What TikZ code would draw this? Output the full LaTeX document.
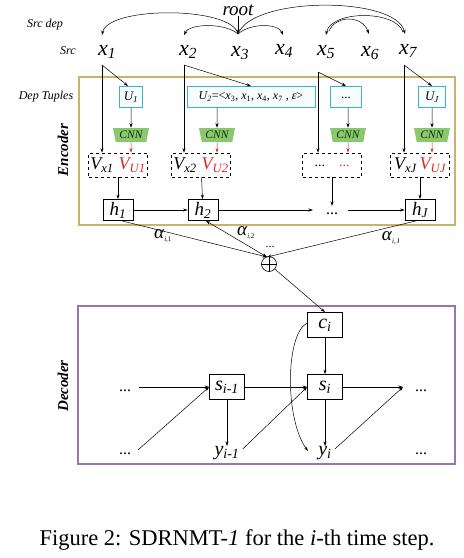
\documentclass[tikz,border=0pt]{standalone}
\usepackage{fontspec}
\setmainfont{Liberation Serif}
\usetikzlibrary{arrows.meta,shapes.geometric}
\definecolor{encc}{RGB}{204,178,104}
\definecolor{decc}{RGB}{150,118,172}
\definecolor{tupc}{RGB}{62,176,206}
\definecolor{cnnc}{RGB}{140,198,110}
\definecolor{vred}{RGB}{222,40,40}
\newcommand{\subsc}[2]{\textit{#1\textsubscript{#2}}}
\newcommand{\fsz}[1]{\fontsize{#1}{#1}\selectfont}
\begin{document}
\begin{tikzpicture}[x=1pt,y=-1pt,
  >={Stealth[length=4.5pt,width=3pt]},
  line width=0.5pt,
  lbl/.style={font=\fsz{12}\itshape},
  word/.style={font=\fsz{22}, inner sep=0pt},
  tup/.style={draw=tupc, line width=1pt, fill=tupc!4, minimum height=21, inner sep=1pt, font=\fsz{13}},
  cnn/.style={trapezium, shape border rotate=180, trapezium left angle=75, trapezium right angle=75, fill=cnnc, minimum height=14, minimum width=36, trapezium stretches=true, inner sep=0pt, font=\fsz{11.5}\itshape, text=black!80!green},
  vbox/.style={draw, dashed, line width=0.8pt, minimum width=59, minimum height=24, inner sep=0pt, font=\fsz{18}},
  hbox/.style={draw, line width=0.8pt, minimum width=30, minimum height=21, inner sep=0pt, font=\fsz{19}},
  sbox/.style={draw, line width=0.8pt, minimum width=35, minimum height=25, inner sep=0pt, font=\fsz{20}},
  dots/.style={font=\fsz{16}, inner sep=0pt},
  alab/.style={font=\fsz{19}, inner sep=0pt},
  side/.style={font=\fsz{15}\bfseries\itshape, rotate=90}]
\useasboundingbox (0,0) rectangle (464,558);
% frames
\draw[encc, line width=1.2pt] (79,77) rectangle (455,225);
\draw[decc, line width=1.2pt] (78,306) rectangle (455,464);
% side labels
\node[lbl] (lsd) at (45,25) {Src dep};
\node[lbl] (lsrc) at (68,51) {Src};
\node[lbl] (ldt) at (46,97) {Dep Tuples};
\node[side] (lenc) at (63,150) {Encoder};
\node[side] (ldec) at (63,386) {Decoder};
% words
\node[font=\fsz{19}\itshape, inner sep=0pt] (root) at (238,10) {root};
\node[word] (x1) at (107,52) {\subsc{x}{1}};
\node[word] (x2) at (188,52) {\subsc{x}{2}};
\node[word] (x3) at (240,53) {\subsc{x}{3}};
\node[word] (x4) at (284,51) {\subsc{x}{4}};
\node[word] (x5) at (326,52) {\subsc{x}{5}};
\node[word] (x6) at (370,53) {\subsc{x}{6}};
\node[word] (x7) at (408,51) {\subsc{x}{7}};
% dependency arcs
\coordinate (r3) at (238,34);
\coordinate (d1) at (102,35);
\coordinate (d2) at (184,35);
\coordinate (d4) at (283,35);
\coordinate (d5) at (326,35);
\coordinate (d5s) at (329,31);
\coordinate (d6) at (369,34);
\coordinate (d7) at (405,34);
\coordinate (d7s) at (403,32);
\draw[->] (root) -- (r3);
\draw[->] (r3) .. controls (232,6) and (108,6) .. (d1);
\draw[->] (r3) .. controls (226,23) and (190,23) .. (d2);
\draw[->] (r3) .. controls (250,23) and (278,23) .. (d4);
\draw[->] (r3) .. controls (252,-4) and (396,-4) .. (d7);
\draw[->] (d7s) .. controls (396,10) and (331,10) .. (d5);
\draw[->] (d5s) .. controls (336,15) and (362,15) .. (d6);
% tuple boxes
\node[tup, minimum width=23] (u1) at (131,97) {\subsc{U}{1}};
\node[tup, minimum width=128, font=\fsz{12}] (u2) at (251,97) {\subsc{U}{2}=<\textit{x}\textsubscript{3}, \textit{x}\textsubscript{1}, \textit{x}\textsubscript{4}, \textit{x}\textsubscript{7} , \textit{ε}>};
\node[tup, minimum width=31] (u3) at (346,97) {\raisebox{-4pt}{...}};
\node[tup, minimum width=27] (u4) at (432,97) {\subsc{U}{J}};
% CNN
\node[cnn] (c1) at (131,135) {CNN};
\node[cnn] (c2) at (217,135) {CNN};
\node[cnn] (c3) at (348,135) {CNN};
\node[cnn] (c4) at (432,135) {CNN};
% dashed boxes
\node[vbox] (v1) at (118,165) {\subsc{V}{x1}\hspace{5pt}\textcolor{vred}{\subsc{V}{U1}}};
\node[vbox] (v2) at (201,165) {\subsc{V}{x2}\hspace{5pt}\textcolor{vred}{\subsc{V}{U2}}};
\node[vbox] (v3) at (332,165) {\raisebox{-4pt}{\fsz{14}...}\hspace{14pt}\textcolor{vred}{\raisebox{-4pt}{\fsz{14}...}}};
\node[vbox] (v4) at (420,165) {\subsc{V}{xJ}\hspace{3pt}\textcolor{vred}{\subsc{V}{UJ}}};
% h boxes
\node[hbox] (h1) at (118,210) {\subsc{h}{1}};
\node[hbox] (h2) at (203,210) {\subsc{h}{2}};
\node[dots] (hd) at (332,214) {...};
\node[hbox] (hJ) at (420,210) {\subsc{h}{J}};
% word to tuple / vectors
\coordinate (s1) at (102,65);
\coordinate (s2) at (184,65);
\coordinate (s5) at (318,72);
\coordinate (s7) at (404,65);
\draw[->] (s1) -- (u1.north west -| 128,87);
\draw[->] (s1) -- (v1.north -| s1);
\draw[->] (s2) -- (u2.north);
\draw[->] (s2) -- (v2.north -| s2);
\draw[->] (s5) -- (u3.north);
\draw[->] (s5) -- (v3.north -| s5);
\draw[->] (s7) -- (u4.north);
\draw[->] (s7) -- (v4.north -| s7);
% tuple -> cnn -> vectors
\foreach \i in {1,2,3,4} {
  \draw[->] (u\i.south -| c\i) -- (c\i.north);
  \draw[->, vred] (c\i.south) -- (v\i.north -| c\i);
}
% vectors -> h
\draw[->] (v1) -- (h1);
\draw[->] (v2) -- (h2);
\draw[->] (v3) -- ([yshift=7pt]hd.north);
\draw[->] (v4) -- (hJ);
\draw[->] (h1) -- (h2);
\draw[->] (h2) -- (313,210);
\draw[->] (348,210) -- (hJ);
% attention
\node[circle, draw, line width=0.6pt, minimum size=15, inner sep=0pt] (op) at (269,264) {};
\draw (op.north) -- (op.south) (op.west) -- (op.east);
\coordinate (opt) at (267,257);
\draw[->] (h1.south) ++(4,0) coordinate (h1b) -- (opt);
\draw[<->] (h2.south) ++(3,0) coordinate (h2b) -- (opt);
\draw[->] (hJ.south) ++(-4,0) coordinate (hJb) -- (opt);
\node[alab] (a1) at (163,236) {\textit{α}\textsubscript{\fsz{7}\textit{i},1}};
\node[alab] (a2) at (246,233) {\textit{α}\textsubscript{\fsz{7}\textit{i},2}};
\node[alab] (aJ) at (391,238) {\textit{α}\textsubscript{\fsz{7}\textit{i},\,J}};
\node[dots, font=\fsz{12}] (ad) at (270,247) {...};
% decoder
\node[sbox] (ci) at (325,325) {\subsc{c}{i}};
\node[sbox] (sp) at (227,387) {\subsc{s}{i-1}};
\node[sbox] (si) at (325,387) {\subsc{s}{i}};
\node[font=\fsz{20}, inner sep=0pt] (yp) at (227,453) {\subsc{y}{i-1}};
\node[font=\fsz{20}, inner sep=0pt] (yi) at (325,453) {\subsc{y}{i}};
\node[dots] (dl1) at (125,391) {...};
\node[dots] (dl2) at (125,454) {...};
\node[dots] (dr1) at (421,391) {...};
\node[dots] (dr2) at (421,454) {...};
\draw[->] (op) -- (ci.north);
\draw[->] (ci) -- (si);
\coordinate (el) at (139,387);
\coordinate (er) at (403,387);
\draw[->] (el) -- (sp);
\draw[->] (sp) -- (si);
\draw[->] (si) -- (er);
\draw[->] (sp) -- (yp.north -| sp);
\draw[->] (si) -- (yi.north -| si);
\coordinate (bl) at (138,450);
\draw[->] (bl) -- (sp.west);
\draw[->] (yp.east) ++(3,-4) coordinate (ype) -- (si.west);
\draw[->] (yi.east) ++(3,-4) coordinate (yie) -- (er);
\coordinate (cil) at (307,323);
\coordinate (yil) at (308,451);
\draw[->] (cil) .. controls (285,335) and (285,420) .. (yil);
% caption
\node[font=\fsz{22.5}, inner sep=0pt] (cap) at (237,540) {Figure 2: SDRNMT-\textit{1} for the \textit{i}-th time step.};
\end{tikzpicture}
\end{document}
